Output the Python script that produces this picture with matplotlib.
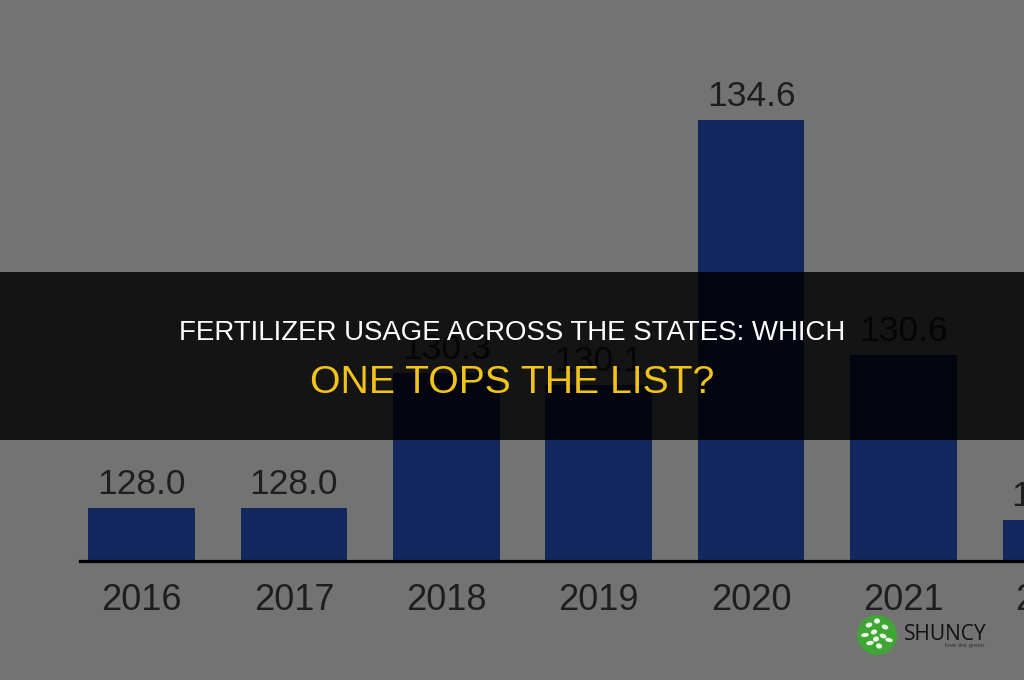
import matplotlib
matplotlib.use("Agg")
import matplotlib.pyplot as plt
from matplotlib.patches import Rectangle, Ellipse

# ---- data ----
years = ["2016", "2017", "2018", "2019", "2020", "2021", "2022"]
values = [128.0, 128.0, 130.3, 130.1, 134.6, 130.6, 127.8]
value_labels = ["128.0", "128.0", "130.3", "130.1", "134.6", "130.6", "127.8"]
title_line1 = "FERTILIZER USAGE ACROSS THE STATES: WHICH"
title_line2 = "ONE TOPS THE LIST?"
brand = "SHUNCY"
brand_tag = "love the green"

base = 127.1
W, H = 1024, 680
plt.rcParams['font.family'] = ['Liberation Sans', 'DejaVu Sans']

fig = plt.figure(figsize=(W / 100, H / 100), dpi=100)
fig.patch.set_facecolor("white")
ax = fig.add_axes([0, 0, 1, 1])
ax.set_facecolor("white")
ax.axis("off")

px_per_cat = 152.4
c0 = 141.5
ax.set_xlim(-c0 / px_per_cat, (W - c0) / px_per_cat)
px_per_unit = 58.8
base_px = H - 561
ax.set_ylim(base - base_px / px_per_unit, base + (H - base_px) / px_per_unit)

xs = list(range(len(years)))
ax.bar(xs, [v - base for v in values], bottom=base, width=0.70,
       color="#2a57cf", edgecolor="none", zorder=2)
ax.axhline(base, xmin=80 / W, xmax=1.0, color="black", lw=2.3, zorder=3)

for x, v, lab, yr in zip(xs, values, value_labels, years):
    ax.annotate(lab, (x, v), xytext=(0, 7), textcoords="offset pixels",
                ha="center", va="bottom", fontsize=25.5, color="#444444",
                zorder=4, annotation_clip=False)
    ax.annotate(yr, (x, base), xytext=(0, -39), textcoords="offset pixels",
                ha="center", va="center", fontsize=26, color="#444444",
                zorder=4, annotation_clip=False)

# gray overlay
fig.add_artist(Rectangle((0, 0), 1, 1, transform=fig.transFigure,
                         facecolor="black", alpha=0.55, edgecolor="none", zorder=10))
# dark banner
fig.add_artist(Rectangle((0, (H - 440) / H), 1, 168 / H, transform=fig.transFigure,
                         facecolor="black", alpha=0.826, edgecolor="none", zorder=11))

fig.text(0.5, 1 - 333 / H, title_line1, ha="center", va="center",
         fontsize=19.9, color="white", zorder=12)
fig.text(0.5, 1 - 383 / H, title_line2, ha="center", va="center",
         fontsize=28.2, color="#f2c31b", zorder=12)

# logo
lx, ly = 877 / W, 1 - 635 / H
fig.add_artist(Ellipse((lx, ly), 40 / W, 40 / H, transform=fig.transFigure,
                       facecolor="#3fa535", edgecolor="none", zorder=12))
leaves = [(-8, -10, 60), (0, -14, 90), (8, -8, 120), (-12, 0, 20), (-3, -3, 70),
          (6, 1, 130), (12, 5, 150), (-7, 8, 30), (2, 11, 100), (-1, 4, 80)]
for dx, dy, ang in leaves:
    fig.add_artist(Ellipse(((877 + dx) / W, 1 - (635 + dy) / H), 8 / W, 4 / H,
                           angle=ang, transform=fig.transFigure,
                           facecolor="#e8f5e4", edgecolor="none", zorder=13))
fig.text(904 / W, 1 - 634 / H, brand, ha="left", va="center",
         fontsize=15, color="#111111", zorder=12, family=["Open Sans", "DejaVu Sans"])
fig.text(945 / W, 1 - 645 / H, brand_tag, ha="left", va="center",
         fontsize=4.5, color="#333333", zorder=12)

fig.savefig("out.png", dpi=100)
